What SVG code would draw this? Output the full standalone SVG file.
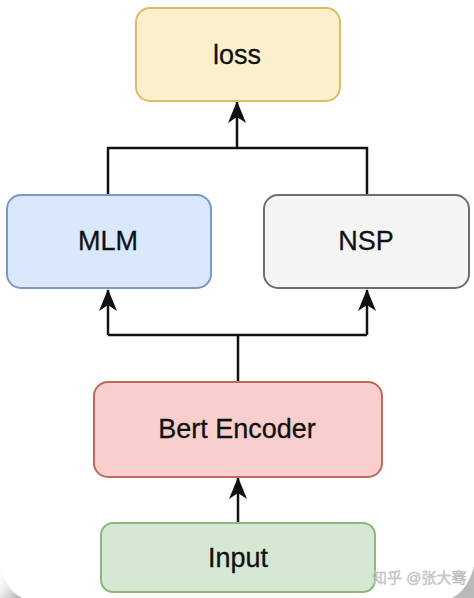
<svg xmlns="http://www.w3.org/2000/svg" width="474" height="598" viewBox="0 0 474 598">
  <defs>
    <style>
      .box { stroke-width: 2; }
      .lbl { font-family: "Liberation Sans", Arial, Helvetica, sans-serif; font-size: 27px; fill: #111111; stroke: #111111; stroke-width: 0.3; text-anchor: middle; }
      .edge { fill: none; stroke: #111111; stroke-width: 2.5; }
      .wm { font-family: "Liberation Sans", "Noto Sans CJK SC", sans-serif; font-size: 15px; fill: #d0d0d0; stroke: #b8b8b8; stroke-width: 0.4; }
    </style>
    <marker id="arrow" viewBox="0 0 22 18" refX="21" refY="9" markerWidth="22" markerHeight="18" markerUnits="userSpaceOnUse" orient="auto">
      <path d="M0,0 L22,9 L0,18 L6,9 Z" fill="#111111"/>
    </marker>
    <linearGradient id="vigL" x1="0" y1="0" x2="1" y2="1">
      <stop offset="0" stop-color="#ffffff" stop-opacity="0"/>
      <stop offset="1" stop-color="#8a8a8a"/>
    </linearGradient>
  </defs>
  <rect width="474" height="598" fill="#ffffff"/>

  <g id="connectors">
    <path class="edge" d="M238,523 L238,478" marker-end="url(#arrow)"/>
    <path class="edge" d="M238,382 L238,335 M108,335 L367,335"/>
    <path class="edge" d="M108,335 L108,290" marker-end="url(#arrow)"/>
    <path class="edge" d="M367,335 L367,290" marker-end="url(#arrow)"/>
    <path class="edge" d="M108,195 L108,148 L367,148 L367,195"/>
    <path class="edge" d="M237,148 L237,102" marker-end="url(#arrow)"/>
  </g>

  <g id="loss">
    <rect class="box" x="136" y="8" width="204" height="93" rx="14" fill="#fcf0cc" stroke="#d9bd6a"/>
    <text class="lbl" x="237" y="64">loss</text>
  </g>
  <g id="mlm">
    <rect class="box" x="7" y="195" width="204" height="93" rx="14" fill="#dae8fc" stroke="#7b98c6"/>
    <text class="lbl" x="108" y="250">MLM</text>
  </g>
  <g id="nsp">
    <rect class="box" x="264" y="195" width="205" height="93" rx="14" fill="#f4f4f4" stroke="#6e6e6e"/>
    <text class="lbl" x="366" y="250">NSP</text>
  </g>
  <g id="bert-encoder">
    <rect class="box" x="94" y="382" width="288" height="95" rx="14" fill="#f8cfcc" stroke="#c0675f"/>
    <text class="lbl" x="237" y="438">Bert Encoder</text>
  </g>
  <g id="input">
    <rect class="box" x="101" y="523" width="274" height="69" rx="12" fill="#d5e8d4" stroke="#8db77a"/>
    <text class="lbl" x="238" y="567">Input</text>
  </g>

  <text class="wm" x="372" y="583">知乎 @张大骞</text>

  <path d="M0,566 Q6,590 22,598 L0,598 Z" fill="url(#vigL)" opacity="0.8"/>
  <path d="M474,566 Q468,590 452,598 L474,598 Z" fill="#8a8a8a" opacity="0.6"/>
</svg>
